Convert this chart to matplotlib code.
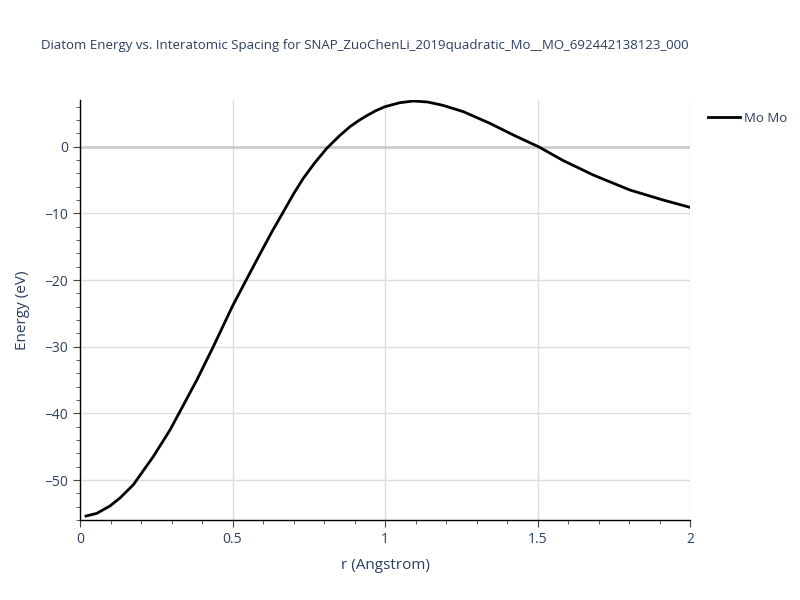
import matplotlib
matplotlib.use('Agg')
import matplotlib.pyplot as plt
from matplotlib.ticker import MultipleLocator

plt.rcParams['font.family'] = ['Open Sans', 'DejaVu Sans']

# values
r = [0.020, 0.055, 0.098, 0.131, 0.175, 0.240, 0.295, 0.328, 0.383, 0.437,
     0.499, 0.546, 0.590, 0.630, 0.667, 0.700, 0.732, 0.770, 0.809, 0.850,
     0.885, 0.915, 0.940, 0.970, 1.000, 1.049, 1.093, 1.140, 1.190, 1.257,
     1.344, 1.421, 1.503, 1.585, 1.683, 1.803, 1.912, 2.0]
energy = [-55.4, -55.0, -53.9, -52.7, -50.7, -46.5, -42.5, -39.7, -35.0, -30.0,
          -24.0, -19.9, -16.1, -12.7, -9.75, -7.1, -4.75, -2.4, -0.25, 1.6,
          3.0, 3.95, 4.65, 5.4, 6.0, 6.6, 6.85, 6.7, 6.2, 5.25,
          3.5, 1.75, 0.0, -2.1, -4.25, -6.5, -8.0, -9.1]

TEXT = '#2a3f5f'
GRID = '#dddddd'

fig = plt.figure(figsize=(8, 6), dpi=100)
ax = fig.add_axes([0.1, 0.1333, 0.7625, 0.7])

ax.plot(r, energy, color='black', lw=2, label='Mo Mo', zorder=3)

ax.set_xlim(0, 2)
ax.set_ylim(-56, 7)
ax.xaxis.set_major_locator(MultipleLocator(0.5))
ax.xaxis.set_minor_locator(MultipleLocator(0.1))
ax.yaxis.set_major_locator(MultipleLocator(10))
ax.yaxis.set_minor_locator(MultipleLocator(2))
ax.set_xticks([0, 0.5, 1, 1.5, 2])
ax.set_xticklabels(['0', '0.5', '1', '1.5', '2'])

ax.grid(True, which='major', color=GRID, lw=1)
ax.axhline(0, color='#cccccc', lw=2, zorder=1)
ax.set_axisbelow(True)

for s in ['top', 'right']:
    ax.spines[s].set_visible(False)
for s in ['left', 'bottom']:
    ax.spines[s].set_color('black')
    ax.spines[s].set_linewidth(1)

ax.tick_params(which='major', direction='out', length=5, color='#444444',
               labelsize=10, labelcolor=TEXT)
ax.tick_params(which='minor', direction='out', length=3, color='#444444')

ax.set_xlabel('r (Angstrom)', fontsize=11, color=TEXT, labelpad=8)
ax.set_ylabel('Energy (eV)', fontsize=11, color=TEXT, labelpad=10)

fig.text(0.456, 0.925,
         'Diatom Energy vs. Interatomic Spacing for SNAP_ZuoChenLi_2019quadratic_Mo__MO_692442138123_000',
         ha='center', va='center', fontsize=9.5, color=TEXT)

ax.legend(loc='upper left', bbox_to_anchor=(1.01, 1.0), frameon=False,
          fontsize=9.5, labelcolor=TEXT, handlelength=2.4, handletextpad=0.3)

fig.savefig('out.png', dpi=100)
